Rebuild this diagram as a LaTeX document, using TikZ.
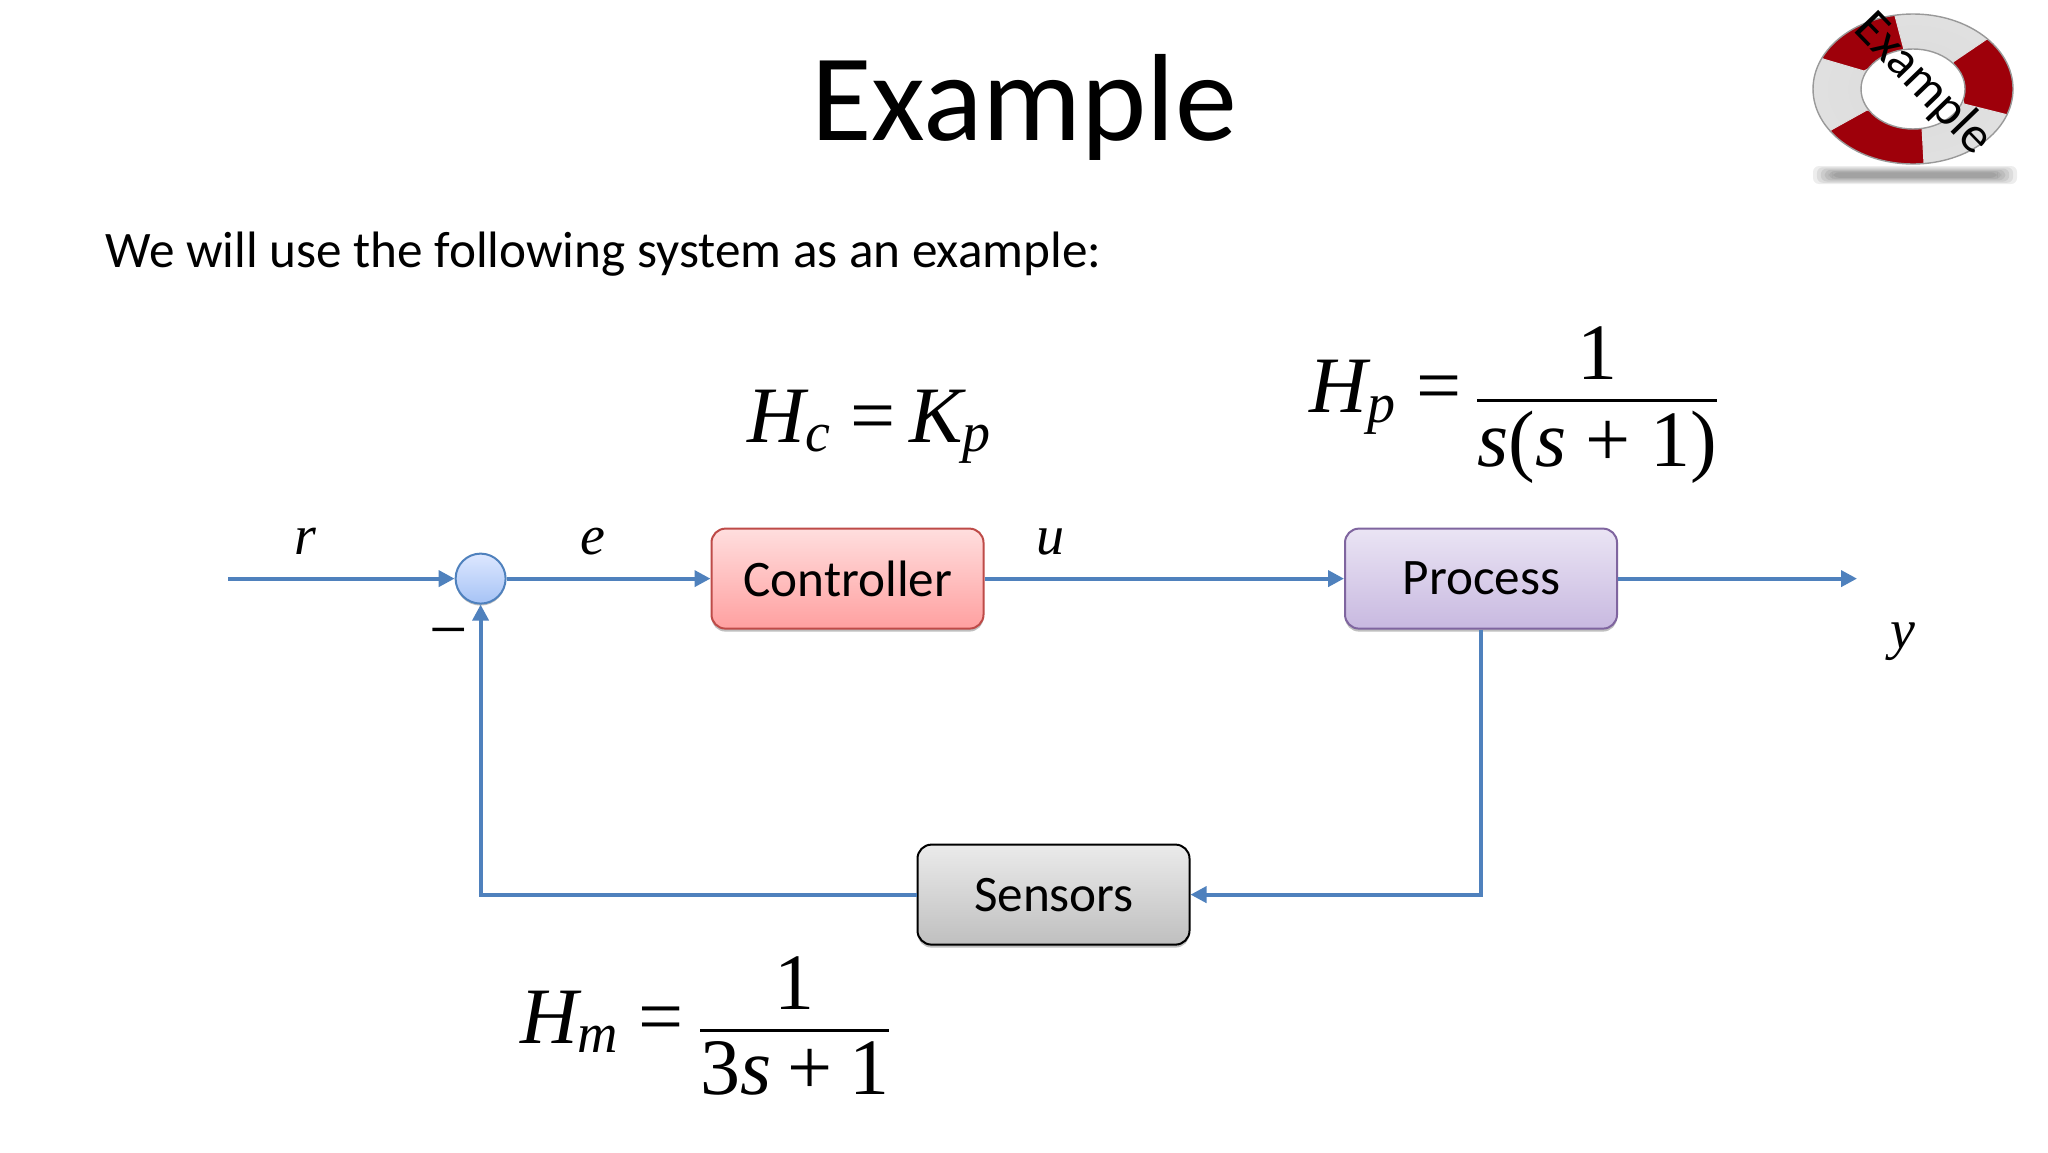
\documentclass[tikz,border=0pt]{standalone}
\usepackage[no-math]{fontspec}
\setmainfont{Carlito}
\newfontfamily\crf[NFSSFamily=lsr]{Liberation Serif}
\DeclareMathAlphabet{\mathcam}{TU}{lsr}{m}{it}
\DeclareMathAlphabet{\mathcr}{TU}{lsr}{m}{n}
\newcommand{\mrel}[1]{\mkern2mu\mathrel{\hbox{\crf #1}}}
\newcommand{\mbn}[2][2]{\mkern#1mu\mathbin{\hbox{\crf #2}}\mkern#1mu}
\newcommand{\mop}[1]{\mathopen{\hbox{\crf #1}}}
\newcommand{\mcl}[1]{\mathclose{\hbox{\crf #1}}}
\newcommand{\numer}{\hbox{\crf 1}\vrule width 0pt depth 5pt}
\newcommand{\boxlabel}[1]{\raisebox{-1pt}{\kern.5pt #1}}
\usetikzlibrary{arrows.meta,shadows,positioning}
\pgfdeclareradialshading{redband}{\pgfpoint{0bp}{0bp}}{rgb(0bp)=(.62,0,.04);rgb(26bp)=(.62,0,.04);rgb(33bp)=(.8,.1,.13);rgb(39bp)=(.74,.07,.09);rgb(50bp)=(.52,0,.02);rgb(100bp)=(.52,0,.02)}
\pgfdeclareradialshading{greyband}{\pgfpoint{0bp}{0bp}}{rgb(0bp)=(.86,.86,.86);rgb(26bp)=(.88,.88,.88);rgb(36bp)=(.96,.96,.96);rgb(50bp)=(.87,.87,.87);rgb(100bp)=(.87,.87,.87)}
\definecolor{flow}{HTML}{4F81BD}
\definecolor{ctrlT}{HTML}{FFDEDE}\definecolor{ctrlB}{HTML}{FFA0A0}\definecolor{ctrlD}{HTML}{BE4B48}
\definecolor{procT}{HTML}{EAE4F4}\definecolor{procB}{HTML}{C8B9E0}\definecolor{procD}{HTML}{7F659F}
\definecolor{sumT}{HTML}{DDE7FF}\definecolor{sumB}{HTML}{A6C3F5}
\tikzset{
  blockbox/.style={draw,line width=1pt,rounded corners=7pt,minimum width=136pt,minimum height=50pt,
    inner sep=0pt,font=\fontsize{25.6}{28}\selectfont,
    drop shadow={shadow xshift=0pt,shadow yshift=-1.5pt,opacity=.25,fill=black}},
  ctrlbox/.style={blockbox,draw=ctrlD,top color=ctrlT,bottom color=ctrlB},
  procbox/.style={blockbox,draw=procD,top color=procT,bottom color=procB},
  sensbox/.style={blockbox,draw=black,top color=black!8,bottom color=black!25},
  sumnode/.style={circle,draw=flow,line width=1pt,top color=sumT,bottom color=sumB,
    minimum size=25pt,inner sep=0pt,drop shadow={shadow xshift=0pt,shadow yshift=-1pt,opacity=.25,fill=black}},
  flowline/.style={draw=flow,line width=1.9pt,-{Triangle[length=8pt,width=8pt]}},
  sig/.style={font=\fontsize{28}{32}\selectfont,inner sep=0pt},
  minussign/.style={font=\fontsize{34}{36}\selectfont,inner sep=0pt},
  formula/.style={font=\fontsize{40}{48}\selectfont,inner sep=0pt},
  titletext/.style={font=\fontsize{62}{70}\selectfont,inner sep=0pt,anchor=base},
  bodytext/.style={font=\fontsize{25.6}{30}\selectfont,inner sep=0pt,anchor=base west},
  ringline/.style={draw=black!40,line width=.7pt},
}
\newcommand{\wedges}{(1864,71) -- (1823,59) -- (1800,0) -- (1895,0) -- (1895,16) -- (1904,50) -- cycle
          (1953,62) -- (1987,39) -- (2040,40) -- (2040,130) -- (2008,115) -- (1964,104) -- cycle
          (1867,110) -- (1831,130) -- (1825,180) -- (1925,180) -- (1924,164) -- (1922,128) -- cycle}
\begin{document}
\begin{tikzpicture}[x=.5pt,y=-.5pt]
\useasboundingbox (0,0) rectangle (2048,1152);
\fill[white] (0,0) rectangle (2048,1152);
\node[titletext] (title) at (1024,140) {Example};
\node[bodytext] (intro) at (105,267) {We will use the following system as an example:};

% life ring
\foreach \g in {0,3,6,9,12,15}{
  \fill[black,opacity=.07,rounded corners=3pt] (1813+\g*1.3,166+\g/2.4) rectangle (2017-\g*1.3,184-\g/2.4);
}
\begin{scope}[even odd rule]
  \clip (1913,89) ellipse [x radius=100,y radius=75] (1913,89) ellipse [x radius=52,y radius=40];
  \shade[shading=greyband] (1913,89) ellipse [x radius=100,y radius=75];
  \begin{scope}
    \clip \wedges;
    \shade[shading=redband] (1913,89) ellipse [x radius=100,y radius=75];
  \end{scope}
  \draw[black!12,line width=.5pt] \wedges;
\end{scope}
\draw[ringline] (1913,89) ellipse [x radius=100,y radius=75];
\draw[ringline] (1913,89) ellipse [x radius=52,y radius=40];
\node[font=\fontsize{25.6}{30}\selectfont,rotate=-46,inner sep=0pt] (ringtext) at (1923,84) {Example};

% blocks
\node[sumnode] (sum) at (480.6,578.6) {};
\node[ctrlbox] (ctrl) at (847.5,578.6) {\boxlabel{Controller}};
\node[procbox] (proc) at (1481,578.6) {\boxlabel{Process}};
\node[sensbox] (sens) at (1053.5,894.6) {\boxlabel{Sensors}};

\coordinate (rin) at (228,578.6);
\coordinate (yout) at (1857,578.6);
\coordinate (corner1) at (proc.south |- sens.east);
\coordinate (corner2) at (sum.south |- sens.west);

\draw[flowline] (rin) -- (sum.west);
\draw[flowline] (sum.east) -- (ctrl.west);
\draw[flowline] (ctrl.east) -- (proc.west);
\draw[flowline] (proc.east) -- (yout);
\draw[flowline] (proc.south) -- (corner1) -- (sens.east);
\draw[flowline] (sens.west) -- (corner2) -- (sum.south);

% signals
\node[sig] (lr) at (305,541) {$\mathcam{r}$};
\node[sig] (le) at (593,542) {$\mathcam{e}$};
\node[sig] (lu) at (1050,542) {$\mathcam{u}$};
\node[sig] (ly) at (1903,642) {$\mathcam{y}$};
\node[minussign] (lm) at (449,640) {\crf −};

% formulas
\node[formula,anchor=base west] (hc) at (747,442) {$\mathcam{H}_{\mathcam{c}} \mrel{=} \mathcam{K}_{\mathcam{p}}$};
\node[formula] (hp) at (1514.5,405) {$\displaystyle \mathcam{H}_{\mathcam{p}} \mrel{=} {\numer \above 1.5pt \mathcam{s}\mop{(}\mathcam{s}\mbn[3]{+}\hbox{\crf 1}\mcl{)}}$};
\node[formula] (hm) at (706,1026) {$\displaystyle \mathcam{H}_{\mathcam{m}} \mrel{=} {\numer \above 1.5pt \hbox{\crf 3}\mathcam{s}\mbn[2]{+}\hbox{\crf 1}}$};
\end{tikzpicture}
\end{document}
